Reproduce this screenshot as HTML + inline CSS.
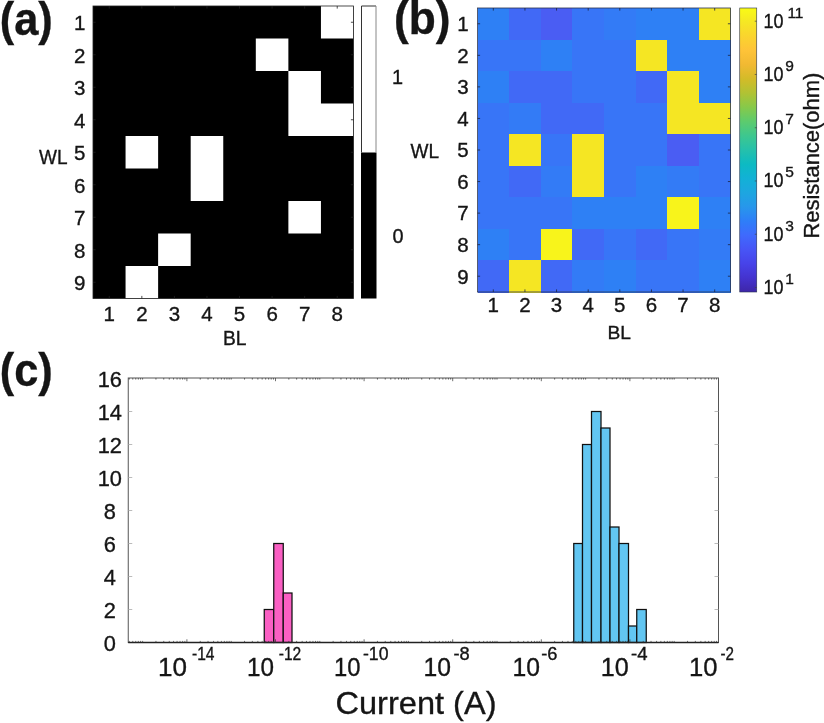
<!DOCTYPE html>
<html><head><meta charset="utf-8"><title>Figure</title>
<style>html,body{margin:0;padding:0;background:#fff;}body{width:824px;height:723px;overflow:hidden;}svg{display:block;filter:blur(0.45px);}text{font-family:"Liberation Sans", sans-serif;fill:#151515;stroke:#151515;stroke-width:.35px;}</style>
</head><body>
<svg width="824" height="723" viewBox="0 0 824 723">
<rect x="0" y="0" width="824" height="723" fill="#ffffff"/>
<g id="panel-a">
<rect x="93.00" y="6.00" width="260.50" height="292.50" fill="#000"/>
<rect x="320.94" y="6.00" width="32.56" height="32.50" fill="#fff"/>
<rect x="255.81" y="38.50" width="32.56" height="32.50" fill="#fff"/>
<rect x="288.38" y="71.00" width="32.56" height="65.00" fill="#fff"/>
<rect x="319.44" y="103.50" width="34.06" height="32.50" fill="#fff"/>
<rect x="125.56" y="136.00" width="32.56" height="32.50" fill="#fff"/>
<rect x="190.69" y="136.00" width="32.56" height="65.00" fill="#fff"/>
<rect x="288.38" y="201.00" width="32.56" height="32.50" fill="#fff"/>
<rect x="158.12" y="233.50" width="32.56" height="32.50" fill="#fff"/>
<rect x="125.56" y="266.00" width="32.56" height="32.50" fill="#fff"/>
<rect x="93.00" y="6.00" width="260.50" height="292.50" fill="none" stroke="#222" stroke-width="0.8"/>
<path d="M93.00 22.25 h2.6 M353.50 22.25 h-2.6 M93.00 54.75 h2.6 M353.50 54.75 h-2.6 M93.00 87.25 h2.6 M353.50 87.25 h-2.6 M93.00 119.75 h2.6 M353.50 119.75 h-2.6 M93.00 152.25 h2.6 M353.50 152.25 h-2.6 M93.00 184.75 h2.6 M353.50 184.75 h-2.6 M93.00 217.25 h2.6 M353.50 217.25 h-2.6 M93.00 249.75 h2.6 M353.50 249.75 h-2.6 M93.00 282.25 h2.6 M353.50 282.25 h-2.6 M109.28 6.00 v2.6 M109.28 298.50 v-2.6 M141.84 6.00 v2.6 M141.84 298.50 v-2.6 M174.41 6.00 v2.6 M174.41 298.50 v-2.6 M206.97 6.00 v2.6 M206.97 298.50 v-2.6 M239.53 6.00 v2.6 M239.53 298.50 v-2.6 M272.09 6.00 v2.6 M272.09 298.50 v-2.6 M304.66 6.00 v2.6 M304.66 298.50 v-2.6 M337.22 6.00 v2.6 M337.22 298.50 v-2.6" stroke="#222" stroke-width="0.8" fill="none"/>
<rect x="361.5" y="6" width="14.5" height="146.5" fill="#fff"/>
<rect x="361" y="152.5" width="15.5" height="146" fill="#000"/>
<path d="M361.5 152.5 V6 H376" fill="none" stroke="#333" stroke-width="1"/>
<path d="M376 6 V152.5" fill="none" stroke="#888" stroke-width="1"/>
<text transform="translate(397.50 83.80) scale(0.97 1)" font-size="20.5" text-anchor="middle">1</text>
<text transform="translate(398.00 242.60) scale(0.97 1)" font-size="20.5" text-anchor="middle">0</text>
<text transform="translate(79.70 30.15) scale(1 1)" font-size="20.5" text-anchor="middle">1</text>
<text transform="translate(79.70 62.65) scale(1 1)" font-size="20.5" text-anchor="middle">2</text>
<text transform="translate(79.70 95.15) scale(1 1)" font-size="20.5" text-anchor="middle">3</text>
<text transform="translate(79.70 127.65) scale(1 1)" font-size="20.5" text-anchor="middle">4</text>
<text transform="translate(79.70 160.15) scale(1 1)" font-size="20.5" text-anchor="middle">5</text>
<text transform="translate(79.70 192.65) scale(1 1)" font-size="20.5" text-anchor="middle">6</text>
<text transform="translate(79.70 225.15) scale(1 1)" font-size="20.5" text-anchor="middle">7</text>
<text transform="translate(79.70 257.65) scale(1 1)" font-size="20.5" text-anchor="middle">8</text>
<text transform="translate(79.70 290.15) scale(1 1)" font-size="20.5" text-anchor="middle">9</text>
<text transform="translate(109.28 321.00) scale(1 1)" font-size="20.5" text-anchor="middle">1</text>
<text transform="translate(141.84 321.00) scale(1 1)" font-size="20.5" text-anchor="middle">2</text>
<text transform="translate(174.41 321.00) scale(1 1)" font-size="20.5" text-anchor="middle">3</text>
<text transform="translate(206.97 321.00) scale(1 1)" font-size="20.5" text-anchor="middle">4</text>
<text transform="translate(239.53 321.00) scale(1 1)" font-size="20.5" text-anchor="middle">5</text>
<text transform="translate(272.09 321.00) scale(1 1)" font-size="20.5" text-anchor="middle">6</text>
<text transform="translate(304.66 321.00) scale(1 1)" font-size="20.5" text-anchor="middle">7</text>
<text transform="translate(337.22 321.00) scale(1 1)" font-size="20.5" text-anchor="middle">8</text>
<text x="39.00" y="164.00" font-size="20" textLength="28.5" lengthAdjust="spacingAndGlyphs">WL</text>
<text x="223.00" y="344.50" font-size="19.5" textLength="23.5" lengthAdjust="spacingAndGlyphs">BL</text>
<text x="-0.20" y="34.50" font-size="45.5" textLength="53" lengthAdjust="spacingAndGlyphs" font-weight="bold" fill="#000">(a)</text>
</g>
<g id="panel-b" shape-rendering="crispEdges">
<rect x="477.50" y="8.00" width="32.12" height="32.06" fill="#2E80F5"/>
<rect x="509.12" y="8.00" width="32.12" height="32.06" fill="#4169F6"/>
<rect x="540.75" y="8.00" width="32.12" height="32.06" fill="#4A5DF3"/>
<rect x="572.38" y="8.00" width="32.12" height="32.06" fill="#3875F7"/>
<rect x="604.00" y="8.00" width="32.12" height="32.06" fill="#337BF6"/>
<rect x="635.62" y="8.00" width="32.12" height="32.06" fill="#2E80F5"/>
<rect x="667.25" y="8.00" width="32.12" height="32.06" fill="#2E80F5"/>
<rect x="698.88" y="8.00" width="32.12" height="32.06" fill="#F5E623"/>
<rect x="477.50" y="39.56" width="32.12" height="32.06" fill="#3875F7"/>
<rect x="509.12" y="39.56" width="32.12" height="32.06" fill="#3875F7"/>
<rect x="540.75" y="39.56" width="32.12" height="32.06" fill="#2E80F5"/>
<rect x="572.38" y="39.56" width="32.12" height="32.06" fill="#3875F7"/>
<rect x="604.00" y="39.56" width="32.12" height="32.06" fill="#3875F7"/>
<rect x="635.62" y="39.56" width="32.12" height="32.06" fill="#F5E623"/>
<rect x="667.25" y="39.56" width="32.12" height="32.06" fill="#2E80F5"/>
<rect x="698.88" y="39.56" width="32.12" height="32.06" fill="#2E80F5"/>
<rect x="477.50" y="71.11" width="32.12" height="32.06" fill="#2E80F5"/>
<rect x="509.12" y="71.11" width="32.12" height="32.06" fill="#4169F6"/>
<rect x="540.75" y="71.11" width="32.12" height="32.06" fill="#4169F6"/>
<rect x="572.38" y="71.11" width="32.12" height="32.06" fill="#3875F7"/>
<rect x="604.00" y="71.11" width="32.12" height="32.06" fill="#3875F7"/>
<rect x="635.62" y="71.11" width="32.12" height="32.06" fill="#4169F6"/>
<rect x="667.25" y="71.11" width="32.12" height="32.06" fill="#F5E623"/>
<rect x="698.88" y="71.11" width="32.12" height="32.06" fill="#2E80F5"/>
<rect x="477.50" y="102.67" width="32.12" height="32.06" fill="#3875F7"/>
<rect x="509.12" y="102.67" width="32.12" height="32.06" fill="#337BF6"/>
<rect x="540.75" y="102.67" width="32.12" height="32.06" fill="#4169F6"/>
<rect x="572.38" y="102.67" width="32.12" height="32.06" fill="#4169F6"/>
<rect x="604.00" y="102.67" width="32.12" height="32.06" fill="#3875F7"/>
<rect x="635.62" y="102.67" width="32.12" height="32.06" fill="#3875F7"/>
<rect x="667.25" y="102.67" width="32.12" height="32.06" fill="#F5E623"/>
<rect x="698.88" y="102.67" width="32.12" height="32.06" fill="#F5E623"/>
<rect x="477.50" y="134.22" width="32.12" height="32.06" fill="#3875F7"/>
<rect x="509.12" y="134.22" width="32.12" height="32.06" fill="#F5E623"/>
<rect x="540.75" y="134.22" width="32.12" height="32.06" fill="#3875F7"/>
<rect x="572.38" y="134.22" width="32.12" height="32.06" fill="#F5E623"/>
<rect x="604.00" y="134.22" width="32.12" height="32.06" fill="#3875F7"/>
<rect x="635.62" y="134.22" width="32.12" height="32.06" fill="#3875F7"/>
<rect x="667.25" y="134.22" width="32.12" height="32.06" fill="#4A5DF3"/>
<rect x="698.88" y="134.22" width="32.12" height="32.06" fill="#3875F7"/>
<rect x="477.50" y="165.78" width="32.12" height="32.06" fill="#3875F7"/>
<rect x="509.12" y="165.78" width="32.12" height="32.06" fill="#4169F6"/>
<rect x="540.75" y="165.78" width="32.12" height="32.06" fill="#337BF6"/>
<rect x="572.38" y="165.78" width="32.12" height="32.06" fill="#F5E623"/>
<rect x="604.00" y="165.78" width="32.12" height="32.06" fill="#3875F7"/>
<rect x="635.62" y="165.78" width="32.12" height="32.06" fill="#2E80F5"/>
<rect x="667.25" y="165.78" width="32.12" height="32.06" fill="#337BF6"/>
<rect x="698.88" y="165.78" width="32.12" height="32.06" fill="#3875F7"/>
<rect x="477.50" y="197.33" width="32.12" height="32.06" fill="#3875F7"/>
<rect x="509.12" y="197.33" width="32.12" height="32.06" fill="#3875F7"/>
<rect x="540.75" y="197.33" width="32.12" height="32.06" fill="#3875F7"/>
<rect x="572.38" y="197.33" width="32.12" height="32.06" fill="#2E80F5"/>
<rect x="604.00" y="197.33" width="32.12" height="32.06" fill="#2E80F5"/>
<rect x="635.62" y="197.33" width="32.12" height="32.06" fill="#2E80F5"/>
<rect x="667.25" y="197.33" width="32.12" height="32.06" fill="#F8F41B"/>
<rect x="698.88" y="197.33" width="32.12" height="32.06" fill="#2E80F5"/>
<rect x="477.50" y="228.89" width="32.12" height="32.06" fill="#2E80F5"/>
<rect x="509.12" y="228.89" width="32.12" height="32.06" fill="#3875F7"/>
<rect x="540.75" y="228.89" width="32.12" height="32.06" fill="#F8F41B"/>
<rect x="572.38" y="228.89" width="32.12" height="32.06" fill="#4169F6"/>
<rect x="604.00" y="228.89" width="32.12" height="32.06" fill="#3875F7"/>
<rect x="635.62" y="228.89" width="32.12" height="32.06" fill="#4169F6"/>
<rect x="667.25" y="228.89" width="32.12" height="32.06" fill="#3875F7"/>
<rect x="698.88" y="228.89" width="32.12" height="32.06" fill="#337BF6"/>
<rect x="477.50" y="260.44" width="32.12" height="32.06" fill="#4169F6"/>
<rect x="509.12" y="260.44" width="32.12" height="32.06" fill="#F5E623"/>
<rect x="540.75" y="260.44" width="32.12" height="32.06" fill="#4169F6"/>
<rect x="572.38" y="260.44" width="32.12" height="32.06" fill="#337BF6"/>
<rect x="604.00" y="260.44" width="32.12" height="32.06" fill="#2E80F5"/>
<rect x="635.62" y="260.44" width="32.12" height="32.06" fill="#3875F7"/>
<rect x="667.25" y="260.44" width="32.12" height="32.06" fill="#3875F7"/>
<rect x="698.88" y="260.44" width="32.12" height="32.06" fill="#2E80F5"/>
</g>
<g id="panel-b-labels">
<rect x="477.50" y="8.00" width="253.00" height="284.00" fill="none" stroke="#2a3350" stroke-width="0.8"/>
<path d="M477.50 23.78 h2.6 M730.50 23.78 h-2.6 M477.50 55.33 h2.6 M730.50 55.33 h-2.6 M477.50 86.89 h2.6 M730.50 86.89 h-2.6 M477.50 118.44 h2.6 M730.50 118.44 h-2.6 M477.50 150.00 h2.6 M730.50 150.00 h-2.6 M477.50 181.56 h2.6 M730.50 181.56 h-2.6 M477.50 213.11 h2.6 M730.50 213.11 h-2.6 M477.50 244.67 h2.6 M730.50 244.67 h-2.6 M477.50 276.22 h2.6 M730.50 276.22 h-2.6 M493.31 8.00 v2.6 M493.31 292.00 v-2.6 M524.94 8.00 v2.6 M524.94 292.00 v-2.6 M556.56 8.00 v2.6 M556.56 292.00 v-2.6 M588.19 8.00 v2.6 M588.19 292.00 v-2.6 M619.81 8.00 v2.6 M619.81 292.00 v-2.6 M651.44 8.00 v2.6 M651.44 292.00 v-2.6 M683.06 8.00 v2.6 M683.06 292.00 v-2.6 M714.69 8.00 v2.6 M714.69 292.00 v-2.6" stroke="#1c2340" stroke-width="0.8" fill="none"/>
<defs><linearGradient id="parula" x1="0" y1="1" x2="0" y2="0">
<stop offset="0" stop-color="#3E26A8"/>
<stop offset="0.05" stop-color="#4433CF"/>
<stop offset="0.1" stop-color="#4743E9"/>
<stop offset="0.15" stop-color="#4755F6"/>
<stop offset="0.2" stop-color="#3F6AFD"/>
<stop offset="0.25" stop-color="#2E7EF8"/>
<stop offset="0.3" stop-color="#2797EB"/>
<stop offset="0.35" stop-color="#1DA6E0"/>
<stop offset="0.4" stop-color="#12B1D6"/>
<stop offset="0.45" stop-color="#0CBAC3"/>
<stop offset="0.5" stop-color="#25C0AB"/>
<stop offset="0.55" stop-color="#3DC78F"/>
<stop offset="0.6" stop-color="#5CCB6E"/>
<stop offset="0.65" stop-color="#86C94A"/>
<stop offset="0.7" stop-color="#B0C234"/>
<stop offset="0.75" stop-color="#D3BB28"/>
<stop offset="0.8" stop-color="#F1B932"/>
<stop offset="0.85" stop-color="#FEC338"/>
<stop offset="0.9" stop-color="#FAD42E"/>
<stop offset="0.95" stop-color="#F5E724"/>
<stop offset="1" stop-color="#F9FB15"/>
</linearGradient></defs>
<rect x="739.75" y="8" width="17" height="284" fill="url(#parula)" stroke="#2a3350" stroke-width="0.6"/>
<text x="763.40" y="27.70" font-size="19.4" textLength="20" lengthAdjust="spacingAndGlyphs">10</text>
<text x="787.40" y="17.50" font-size="15.5">11</text>
<path d="M756.75 21.20 h-2" stroke="#444" stroke-width="0.7"/>
<text x="763.40" y="80.96" font-size="19.4" textLength="20" lengthAdjust="spacingAndGlyphs">10</text>
<text x="785.30" y="70.76" font-size="15.5">9</text>
<path d="M756.75 74.46 h-2" stroke="#444" stroke-width="0.7"/>
<text x="763.40" y="134.22" font-size="19.4" textLength="20" lengthAdjust="spacingAndGlyphs">10</text>
<text x="785.30" y="124.02" font-size="15.5">7</text>
<path d="M756.75 127.72 h-2" stroke="#444" stroke-width="0.7"/>
<text x="763.40" y="187.48" font-size="19.4" textLength="20" lengthAdjust="spacingAndGlyphs">10</text>
<text x="785.30" y="177.28" font-size="15.5">5</text>
<path d="M756.75 180.98 h-2" stroke="#444" stroke-width="0.7"/>
<text x="763.40" y="240.74" font-size="19.4" textLength="20" lengthAdjust="spacingAndGlyphs">10</text>
<text x="785.30" y="230.54" font-size="15.5">3</text>
<path d="M756.75 234.24 h-2" stroke="#444" stroke-width="0.7"/>
<text x="763.40" y="294.00" font-size="19.4" textLength="20" lengthAdjust="spacingAndGlyphs">10</text>
<text x="785.30" y="283.80" font-size="15.5">1</text>
<path d="M756.75 287.50 h-2" stroke="#444" stroke-width="0.7"/>
<text transform="translate(818.7,238.6) rotate(-90)" font-size="21.5" textLength="166" lengthAdjust="spacingAndGlyphs">Resistance(ohm)</text>
<text transform="translate(463.00 31.08) scale(1 1)" font-size="20.5" text-anchor="middle">1</text>
<text transform="translate(463.00 62.63) scale(1 1)" font-size="20.5" text-anchor="middle">2</text>
<text transform="translate(463.00 94.19) scale(1 1)" font-size="20.5" text-anchor="middle">3</text>
<text transform="translate(463.00 125.74) scale(1 1)" font-size="20.5" text-anchor="middle">4</text>
<text transform="translate(463.00 157.30) scale(1 1)" font-size="20.5" text-anchor="middle">5</text>
<text transform="translate(463.00 188.86) scale(1 1)" font-size="20.5" text-anchor="middle">6</text>
<text transform="translate(463.00 220.41) scale(1 1)" font-size="20.5" text-anchor="middle">7</text>
<text transform="translate(463.00 251.97) scale(1 1)" font-size="20.5" text-anchor="middle">8</text>
<text transform="translate(463.00 283.52) scale(1 1)" font-size="20.5" text-anchor="middle">9</text>
<text transform="translate(493.31 312.00) scale(1 1)" font-size="20.5" text-anchor="middle">1</text>
<text transform="translate(524.94 312.00) scale(1 1)" font-size="20.5" text-anchor="middle">2</text>
<text transform="translate(556.56 312.00) scale(1 1)" font-size="20.5" text-anchor="middle">3</text>
<text transform="translate(588.19 312.00) scale(1 1)" font-size="20.5" text-anchor="middle">4</text>
<text transform="translate(619.81 312.00) scale(1 1)" font-size="20.5" text-anchor="middle">5</text>
<text transform="translate(651.44 312.00) scale(1 1)" font-size="20.5" text-anchor="middle">6</text>
<text transform="translate(683.06 312.00) scale(1 1)" font-size="20.5" text-anchor="middle">7</text>
<text transform="translate(714.69 312.00) scale(1 1)" font-size="20.5" text-anchor="middle">8</text>
<text x="410.50" y="157.50" font-size="20" textLength="28.5" lengthAdjust="spacingAndGlyphs">WL</text>
<text x="607.50" y="339.00" font-size="19" textLength="23.5" lengthAdjust="spacingAndGlyphs">BL</text>
<text x="394.00" y="34.00" font-size="45.5" textLength="56.5" lengthAdjust="spacingAndGlyphs" font-weight="bold" fill="#000">(b)</text>
</g>
<g id="panel-c">
<rect x="264.25" y="609.50" width="9.50" height="33.00" fill="#FA5FC3" stroke="#101010" stroke-width="1.25"/>
<rect x="273.75" y="543.50" width="9.50" height="99.00" fill="#FA5FC3" stroke="#101010" stroke-width="1.25"/>
<rect x="283.25" y="593.00" width="8.75" height="49.50" fill="#FA5FC3" stroke="#101010" stroke-width="1.25"/>
<rect x="573.75" y="543.50" width="8.75" height="99.00" fill="#62C6F2" stroke="#101010" stroke-width="1.25"/>
<rect x="582.50" y="444.50" width="9.00" height="198.00" fill="#62C6F2" stroke="#101010" stroke-width="1.25"/>
<rect x="591.50" y="411.50" width="9.50" height="231.00" fill="#62C6F2" stroke="#101010" stroke-width="1.25"/>
<rect x="601.00" y="428.00" width="9.00" height="214.50" fill="#62C6F2" stroke="#101010" stroke-width="1.25"/>
<rect x="610.00" y="527.00" width="9.00" height="115.50" fill="#62C6F2" stroke="#101010" stroke-width="1.25"/>
<rect x="619.00" y="543.50" width="9.50" height="99.00" fill="#62C6F2" stroke="#101010" stroke-width="1.25"/>
<rect x="628.50" y="626.00" width="8.25" height="16.50" fill="#62C6F2" stroke="#101010" stroke-width="1.25"/>
<rect x="636.75" y="609.50" width="9.50" height="33.00" fill="#62C6F2" stroke="#101010" stroke-width="1.25"/>
<rect x="128.25" y="378.00" width="590.25" height="264.50" fill="none" stroke="#555" stroke-width="1"/>
<path d="M128.25 642.50 H718.50" stroke="#222" stroke-width="1.4"/>
<path d="M129.26 378.00 v1.6 M129.26 642.50 v-1.6 M132.77 378.00 v1.6 M132.77 642.50 v-1.6 M135.74 378.00 v1.6 M135.74 642.50 v-1.6 M138.31 378.00 v1.6 M138.31 642.50 v-1.6 M140.57 378.00 v1.6 M140.57 642.50 v-1.6 M142.60 378.00 v1.6 M142.60 642.50 v-1.6 M155.94 378.00 v1.6 M155.94 642.50 v-1.6 M163.74 378.00 v1.6 M163.74 642.50 v-1.6 M169.27 378.00 v1.6 M169.27 642.50 v-1.6 M173.56 378.00 v1.6 M173.56 642.50 v-1.6 M177.07 378.00 v1.6 M177.07 642.50 v-1.6 M180.04 378.00 v1.6 M180.04 642.50 v-1.6 M182.61 378.00 v1.6 M182.61 642.50 v-1.6 M184.87 378.00 v1.6 M184.87 642.50 v-1.6 M186.90 378.00 v3.2 M186.90 642.50 v-3.2 M200.24 378.00 v1.6 M200.24 642.50 v-1.6 M208.04 378.00 v1.6 M208.04 642.50 v-1.6 M213.57 378.00 v1.6 M213.57 642.50 v-1.6 M217.86 378.00 v1.6 M217.86 642.50 v-1.6 M221.37 378.00 v1.6 M221.37 642.50 v-1.6 M224.34 378.00 v1.6 M224.34 642.50 v-1.6 M226.91 378.00 v1.6 M226.91 642.50 v-1.6 M229.17 378.00 v1.6 M229.17 642.50 v-1.6 M231.20 378.00 v1.6 M231.20 642.50 v-1.6 M244.54 378.00 v1.6 M244.54 642.50 v-1.6 M252.34 378.00 v1.6 M252.34 642.50 v-1.6 M257.87 378.00 v1.6 M257.87 642.50 v-1.6 M262.16 378.00 v1.6 M262.16 642.50 v-1.6 M265.67 378.00 v1.6 M265.67 642.50 v-1.6 M268.64 378.00 v1.6 M268.64 642.50 v-1.6 M271.21 378.00 v1.6 M271.21 642.50 v-1.6 M273.47 378.00 v1.6 M273.47 642.50 v-1.6 M275.50 378.00 v3.2 M275.50 642.50 v-3.2 M288.84 378.00 v1.6 M288.84 642.50 v-1.6 M296.64 378.00 v1.6 M296.64 642.50 v-1.6 M302.17 378.00 v1.6 M302.17 642.50 v-1.6 M306.46 378.00 v1.6 M306.46 642.50 v-1.6 M309.97 378.00 v1.6 M309.97 642.50 v-1.6 M312.94 378.00 v1.6 M312.94 642.50 v-1.6 M315.51 378.00 v1.6 M315.51 642.50 v-1.6 M317.77 378.00 v1.6 M317.77 642.50 v-1.6 M319.80 378.00 v1.6 M319.80 642.50 v-1.6 M333.14 378.00 v1.6 M333.14 642.50 v-1.6 M340.94 378.00 v1.6 M340.94 642.50 v-1.6 M346.47 378.00 v1.6 M346.47 642.50 v-1.6 M350.76 378.00 v1.6 M350.76 642.50 v-1.6 M354.27 378.00 v1.6 M354.27 642.50 v-1.6 M357.24 378.00 v1.6 M357.24 642.50 v-1.6 M359.81 378.00 v1.6 M359.81 642.50 v-1.6 M362.07 378.00 v1.6 M362.07 642.50 v-1.6 M364.10 378.00 v3.2 M364.10 642.50 v-3.2 M377.44 378.00 v1.6 M377.44 642.50 v-1.6 M385.24 378.00 v1.6 M385.24 642.50 v-1.6 M390.77 378.00 v1.6 M390.77 642.50 v-1.6 M395.06 378.00 v1.6 M395.06 642.50 v-1.6 M398.57 378.00 v1.6 M398.57 642.50 v-1.6 M401.54 378.00 v1.6 M401.54 642.50 v-1.6 M404.11 378.00 v1.6 M404.11 642.50 v-1.6 M406.37 378.00 v1.6 M406.37 642.50 v-1.6 M408.40 378.00 v1.6 M408.40 642.50 v-1.6 M421.74 378.00 v1.6 M421.74 642.50 v-1.6 M429.54 378.00 v1.6 M429.54 642.50 v-1.6 M435.07 378.00 v1.6 M435.07 642.50 v-1.6 M439.36 378.00 v1.6 M439.36 642.50 v-1.6 M442.87 378.00 v1.6 M442.87 642.50 v-1.6 M445.84 378.00 v1.6 M445.84 642.50 v-1.6 M448.41 378.00 v1.6 M448.41 642.50 v-1.6 M450.67 378.00 v1.6 M450.67 642.50 v-1.6 M452.70 378.00 v3.2 M452.70 642.50 v-3.2 M466.04 378.00 v1.6 M466.04 642.50 v-1.6 M473.84 378.00 v1.6 M473.84 642.50 v-1.6 M479.37 378.00 v1.6 M479.37 642.50 v-1.6 M483.66 378.00 v1.6 M483.66 642.50 v-1.6 M487.17 378.00 v1.6 M487.17 642.50 v-1.6 M490.14 378.00 v1.6 M490.14 642.50 v-1.6 M492.71 378.00 v1.6 M492.71 642.50 v-1.6 M494.97 378.00 v1.6 M494.97 642.50 v-1.6 M497.00 378.00 v1.6 M497.00 642.50 v-1.6 M510.34 378.00 v1.6 M510.34 642.50 v-1.6 M518.14 378.00 v1.6 M518.14 642.50 v-1.6 M523.67 378.00 v1.6 M523.67 642.50 v-1.6 M527.96 378.00 v1.6 M527.96 642.50 v-1.6 M531.47 378.00 v1.6 M531.47 642.50 v-1.6 M534.44 378.00 v1.6 M534.44 642.50 v-1.6 M537.01 378.00 v1.6 M537.01 642.50 v-1.6 M539.27 378.00 v1.6 M539.27 642.50 v-1.6 M541.30 378.00 v3.2 M541.30 642.50 v-3.2 M554.64 378.00 v1.6 M554.64 642.50 v-1.6 M562.44 378.00 v1.6 M562.44 642.50 v-1.6 M567.97 378.00 v1.6 M567.97 642.50 v-1.6 M572.26 378.00 v1.6 M572.26 642.50 v-1.6 M575.77 378.00 v1.6 M575.77 642.50 v-1.6 M578.74 378.00 v1.6 M578.74 642.50 v-1.6 M581.31 378.00 v1.6 M581.31 642.50 v-1.6 M583.57 378.00 v1.6 M583.57 642.50 v-1.6 M585.60 378.00 v1.6 M585.60 642.50 v-1.6 M598.94 378.00 v1.6 M598.94 642.50 v-1.6 M606.74 378.00 v1.6 M606.74 642.50 v-1.6 M612.27 378.00 v1.6 M612.27 642.50 v-1.6 M616.56 378.00 v1.6 M616.56 642.50 v-1.6 M620.07 378.00 v1.6 M620.07 642.50 v-1.6 M623.04 378.00 v1.6 M623.04 642.50 v-1.6 M625.61 378.00 v1.6 M625.61 642.50 v-1.6 M627.87 378.00 v1.6 M627.87 642.50 v-1.6 M629.90 378.00 v3.2 M629.90 642.50 v-3.2 M643.24 378.00 v1.6 M643.24 642.50 v-1.6 M651.04 378.00 v1.6 M651.04 642.50 v-1.6 M656.57 378.00 v1.6 M656.57 642.50 v-1.6 M660.86 378.00 v1.6 M660.86 642.50 v-1.6 M664.37 378.00 v1.6 M664.37 642.50 v-1.6 M667.34 378.00 v1.6 M667.34 642.50 v-1.6 M669.91 378.00 v1.6 M669.91 642.50 v-1.6 M672.17 378.00 v1.6 M672.17 642.50 v-1.6 M674.20 378.00 v1.6 M674.20 642.50 v-1.6 M687.54 378.00 v1.6 M687.54 642.50 v-1.6 M695.34 378.00 v1.6 M695.34 642.50 v-1.6 M700.87 378.00 v1.6 M700.87 642.50 v-1.6 M705.16 378.00 v1.6 M705.16 642.50 v-1.6 M708.67 378.00 v1.6 M708.67 642.50 v-1.6 M711.64 378.00 v1.6 M711.64 642.50 v-1.6 M714.21 378.00 v1.6 M714.21 642.50 v-1.6 M716.47 378.00 v1.6 M716.47 642.50 v-1.6" stroke="#333" stroke-width="0.7" fill="none"/>
<text x="109.80" y="651.10" font-size="21.8" text-anchor="middle">0</text>
<path d="M128.25 609.50 h4 M718.50 609.50 h-4" stroke="#aaa" stroke-width="0.8"/>
<text x="109.80" y="618.10" font-size="21.8" text-anchor="middle">2</text>
<path d="M128.25 576.50 h4 M718.50 576.50 h-4" stroke="#aaa" stroke-width="0.8"/>
<text x="109.80" y="585.10" font-size="21.8" text-anchor="middle">4</text>
<path d="M128.25 543.50 h4 M718.50 543.50 h-4" stroke="#aaa" stroke-width="0.8"/>
<text x="109.80" y="552.10" font-size="21.8" text-anchor="middle">6</text>
<path d="M128.25 510.50 h4 M718.50 510.50 h-4" stroke="#aaa" stroke-width="0.8"/>
<text x="109.80" y="519.10" font-size="21.8" text-anchor="middle">8</text>
<path d="M128.25 477.50 h4 M718.50 477.50 h-4" stroke="#aaa" stroke-width="0.8"/>
<text x="109.80" y="486.10" font-size="21.8" text-anchor="middle">10</text>
<path d="M128.25 444.50 h4 M718.50 444.50 h-4" stroke="#aaa" stroke-width="0.8"/>
<text x="109.80" y="453.10" font-size="21.8" text-anchor="middle">12</text>
<path d="M128.25 411.50 h4 M718.50 411.50 h-4" stroke="#aaa" stroke-width="0.8"/>
<text x="109.80" y="420.10" font-size="21.8" text-anchor="middle">14</text>
<text x="109.80" y="387.10" font-size="21.8" text-anchor="middle">16</text>
<text x="158.00" y="676.00" font-size="25.5" textLength="29" lengthAdjust="spacingAndGlyphs">10</text>
<text x="192.00" y="660.00" font-size="17.5" textLength="22.5" lengthAdjust="spacingAndGlyphs">-14</text>
<text x="247.00" y="676.00" font-size="25.5" textLength="27" lengthAdjust="spacingAndGlyphs">10</text>
<text x="278.75" y="660.00" font-size="17.5" textLength="22.5" lengthAdjust="spacingAndGlyphs">-12</text>
<text x="334.00" y="676.00" font-size="25.5" textLength="26.5" lengthAdjust="spacingAndGlyphs">10</text>
<text x="363.00" y="660.00" font-size="17.5" textLength="25.5" lengthAdjust="spacingAndGlyphs">-10</text>
<text x="423.50" y="676.00" font-size="25.5" textLength="27.5" lengthAdjust="spacingAndGlyphs">10</text>
<text x="453.50" y="660.00" font-size="17.5" textLength="16.25" lengthAdjust="spacingAndGlyphs">-8</text>
<text x="512.50" y="676.00" font-size="25.5" textLength="27.5" lengthAdjust="spacingAndGlyphs">10</text>
<text x="541.25" y="660.00" font-size="17.5" textLength="16.25" lengthAdjust="spacingAndGlyphs">-6</text>
<text x="600.75" y="676.00" font-size="25.5" textLength="28" lengthAdjust="spacingAndGlyphs">10</text>
<text x="631.00" y="660.00" font-size="17.5" textLength="16.5" lengthAdjust="spacingAndGlyphs">-4</text>
<text x="689.00" y="676.00" font-size="25.5" textLength="28.5" lengthAdjust="spacingAndGlyphs">10</text>
<text x="720.50" y="660.00" font-size="17.5" textLength="13.5" lengthAdjust="spacingAndGlyphs">-2</text>
<text x="335.50" y="713.75" font-size="31.5" textLength="161" lengthAdjust="spacingAndGlyphs">Current (A)</text>
<text x="-0.20" y="386.00" font-size="45.5" textLength="53" lengthAdjust="spacingAndGlyphs" font-weight="bold" fill="#000">(c)</text>
</g>
</svg></body></html>
